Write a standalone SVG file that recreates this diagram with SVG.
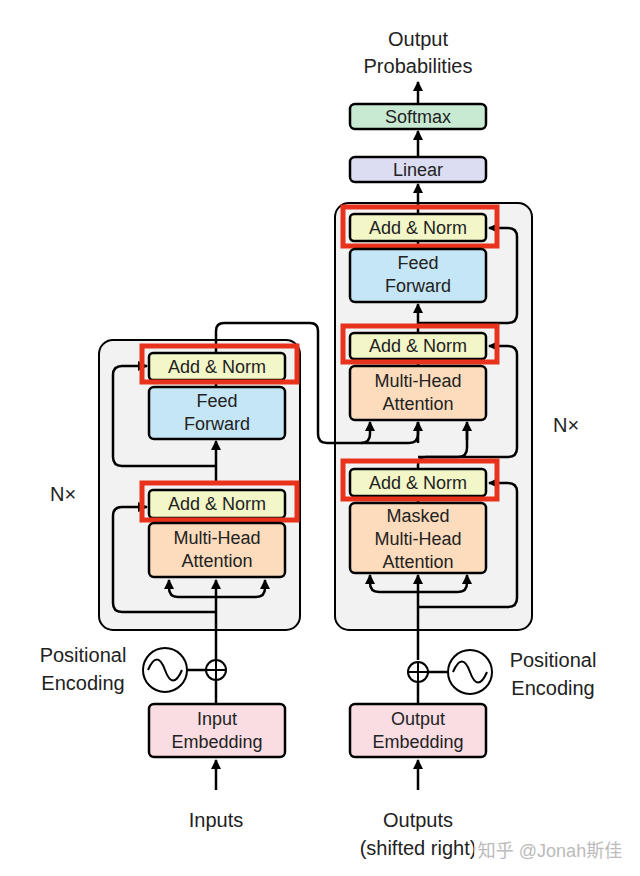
<svg xmlns="http://www.w3.org/2000/svg" width="640" height="876" viewBox="0 0 640 876">
<defs>
<marker id="ah" viewBox="0 0 10 10" refX="9" refY="5" markerWidth="4" markerHeight="4" orient="auto-start-reverse"><path d="M0,0 L10,5 L0,10 z" fill="#000"/></marker>
<style>
text{font-family:"Liberation Sans",Arial,sans-serif;font-size:18px;fill:#222;text-anchor:middle}
.blk{stroke:#000;stroke-width:2.5}
.stack{fill:#f2f2f2;stroke:#000;stroke-width:2}
.an{fill:#f3f7c8}
.ff{fill:#c5e6f6}
.mh{fill:#fcdcbc}
.emb{fill:#f9dde2}
.red{fill:none;stroke:#e8321c;stroke-width:5}
.c{fill:none;stroke:#000;stroke-width:2.5}
.a{marker-end:url(#ah)}
</style>
</defs>
<rect class="stack" x="99" y="340" width="201" height="290" rx="14"/>
<rect class="stack" x="335" y="203" width="197" height="427" rx="14"/>
<g id="connectors">
<path class="c a" d="M216,790 V760"/>
<path class="c a" d="M418,790 V760"/>
<path class="c" d="M216,704 V681"/>
<path class="c" d="M418,704 V683"/>
<path class="c" d="M187,670 H206"/>
<path class="c" d="M428,672 H448"/>
<path class="c a" d="M216,660 V580"/>
<path class="c a" d="M216,597 H178 Q169,597 169,588 V580"/>
<path class="c a" d="M216,597 H256 Q265,597 265,588 V580"/>
<path class="c a" d="M216,612 H122 Q113,612 113,603 V516 Q113,507 122,507 H147"/>
<path class="c" d="M216,522 V490"/>
<path class="c a" d="M216,483 V441"/>
<path class="c a" d="M216,466 H122 Q113,466 113,457 V375 Q113,366 122,366 H147"/>
<path class="c" d="M216,387 V380"/>
<path class="c" d="M216,353 V331 Q216,323 224,323 H310 Q318,323 318,331 V434 Q318,443 327,443 H409 Q418,443 418,434 V422"/>
<path class="c a" d="M361,443 Q370,443 370,434 V422"/>
<path class="c a" d="M418,443 V422"/>
<path class="c a" d="M418,660 V575"/>
<path class="c a" d="M418,592 H379 Q370,592 370,583 V575"/>
<path class="c a" d="M418,592 H458 Q467,592 467,583 V575"/>
<path class="c a" d="M418,607 H508 Q517,607 517,598 V492 Q517,483 508,483 H489"/>
<path class="c" d="M418,503 V496"/>
<path class="c" d="M418,469 V465 Q418,457 426,457 H458 Q467,457 467,448 V430"/>
<path class="c a" d="M467,440 V422"/>
<path class="c a" d="M418,457 H508 Q517,457 517,448 V355 Q517,346 508,346 H489"/>
<path class="c" d="M418,366 V359"/>
<path class="c a" d="M418,333 V304"/>
<path class="c a" d="M418,323 H508 Q517,323 517,314 V237 Q517,228 508,228 H489"/>
<path class="c" d="M418,249 V241"/>
<path class="c a" d="M418,214 V184"/>
<path class="c a" d="M418,157 V131"/>
<path class="c a" d="M418,104 V82"/>
</g>
<g id="enc-an2"><rect class="blk an" x="149" y="353" width="136" height="27" rx="4"/><text x="217" y="373">Add &amp; Norm</text><rect class="red" x="142" y="346" width="155" height="36"/></g>
<g id="enc-ff"><rect class="blk ff" x="149" y="387" width="136" height="52" rx="5"/><text x="217" y="407">Feed</text><text x="217" y="430">Forward</text></g>
<g id="enc-an1"><rect class="blk an" x="149" y="490" width="136" height="28" rx="4"/><text x="217" y="510">Add &amp; Norm</text><rect class="red" x="142" y="483" width="155" height="37"/></g>
<g id="enc-mha"><rect class="blk mh" x="149" y="523" width="136" height="54" rx="5"/><text x="217" y="544">Multi-Head</text><text x="217" y="567">Attention</text></g>
<g id="dec-an3"><rect class="blk an" x="350" y="214" width="136" height="27" rx="4"/><text x="418" y="234">Add &amp; Norm</text><rect class="red" x="343" y="207" width="154" height="39"/></g>
<g id="dec-ff"><rect class="blk ff" x="350" y="249" width="136" height="53" rx="5"/><text x="418" y="269">Feed</text><text x="418" y="292">Forward</text></g>
<g id="dec-an2"><rect class="blk an" x="350" y="333" width="136" height="26" rx="4"/><text x="418" y="352">Add &amp; Norm</text><rect class="red" x="343" y="326" width="154" height="36"/></g>
<g id="dec-mha"><rect class="blk mh" x="350" y="366" width="136" height="54" rx="5"/><text x="418" y="387">Multi-Head</text><text x="418" y="410">Attention</text></g>
<g id="dec-an1"><rect class="blk an" x="350" y="469" width="136" height="27" rx="4"/><text x="418" y="489">Add &amp; Norm</text><rect class="red" x="343" y="461" width="154" height="38"/></g>
<g id="dec-mmha"><rect class="blk mh" x="350" y="503" width="136" height="70" rx="5"/><text x="418" y="522">Masked</text><text x="418" y="545">Multi-Head</text><text x="418" y="568">Attention</text></g>
<g id="linear"><rect class="blk" x="350" y="157" width="136" height="25" rx="5" fill="#dcdcf2"/><text x="418" y="176">Linear</text></g>
<g id="softmax"><rect class="blk" x="350" y="104" width="136" height="25" rx="5" fill="#c8ead2"/><text x="418" y="123">Softmax</text></g>
<g id="in-emb"><rect class="blk emb" x="149" y="704" width="136" height="53" rx="5"/><text x="217" y="725">Input</text><text x="217" y="748">Embedding</text></g>
<g id="out-emb"><rect class="blk emb" x="350" y="704" width="136" height="53" rx="5"/><text x="418" y="725">Output</text><text x="418" y="748">Embedding</text></g>
<g id="enc-plus"><circle cx="216" cy="670" r="10" fill="#fff" stroke="#000" stroke-width="2"/><path d="M206,670 H226 M216,660 V680" stroke="#000" stroke-width="2"/></g>
<g id="dec-plus"><circle cx="418" cy="672" r="10" fill="#fff" stroke="#000" stroke-width="2"/><path d="M408,672 H428 M418,662 V682" stroke="#000" stroke-width="2"/></g>
<g id="enc-pe"><circle cx="165" cy="670" r="22" fill="#fff" stroke="#000" stroke-width="2"/><path d="M148,670 C154,656 160,656 165,670 S176,684 182,670" fill="none" stroke="#000" stroke-width="2"/></g>
<g id="dec-pe"><circle cx="470" cy="672" r="22" fill="#fff" stroke="#000" stroke-width="2"/><path d="M453,672 C459,658 465,658 470,672 S481,686 487,672" fill="none" stroke="#000" stroke-width="2"/></g>
<text x="83" y="662" style="font-size:20px">Positional</text><text x="83" y="690" style="font-size:20px">Encoding</text>
<text x="553" y="667" style="font-size:20px">Positional</text><text x="553" y="695" style="font-size:20px">Encoding</text>
<text x="63" y="501" style="font-size:20px">N×</text>
<text x="566" y="432" style="font-size:20px">N×</text>
<text x="418" y="46" style="font-size:20px">Output</text><text x="418" y="73" style="font-size:20px">Probabilities</text>
<text x="216" y="827" style="font-size:20px">Inputs</text>
<text x="418" y="827" style="font-size:20px">Outputs</text>
<text x="418" y="855" style="font-size:20px">(shifted right)</text>
<rect x="474" y="836" width="156" height="26" fill="#fff" opacity="0.75"/>
<text x="550" y="857" style="font-size:18px;fill:#bbb;font-family:'Liberation Sans','Noto Sans CJK SC',sans-serif">知乎 @Jonah斯佳</text>
</svg>
